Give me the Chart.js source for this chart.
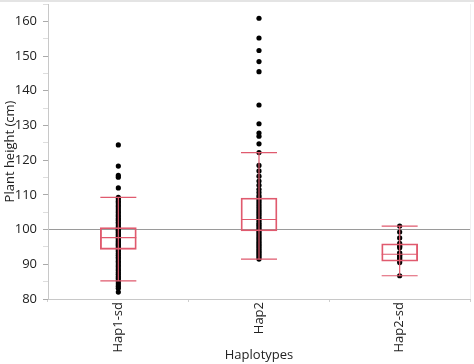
<!DOCTYPE html>
<html>
<head>
<meta charset="utf-8">
<script src="https://cdn.jsdelivr.net/npm/chart.js@4.4.0/dist/chart.umd.min.js"></script>
<style>
html, body { margin: 0; padding: 0; background: #fff; }
#wrap { width: 474px; height: 364px; }
</style>
</head>
<body>
<div id="wrap"><canvas id="myChart"></canvas></div>
<script>
// Catégories et valeurs
const categories = ['Hap1-sd', 'Hap2', 'Hap2-sd'];

// Statistiques des boîtes
const q1 = [94.3, 99.6, 90.9];
const median = [97.7, 102.9, 92.9];
const q3 = [100.6, 109.1, 95.9];
const whiskerLow = [85.2, 91.5, 86.7];
const whiskerHigh = [109.3, 122.2, 101.0];

// Points individuels
const hap1sd = [124.4, 118.3, 115.6, 115.1, 112.0,
    109.3, 108.8, 108.2, 107.7, 107.1, 106.6, 106.0, 105.4, 104.9, 104.3, 103.8,
    103.2, 102.7, 102.1, 101.6, 101.0, 100.6, 100.2, 99.8, 99.4, 99.0, 98.6, 98.2,
    97.8, 97.4, 97.0, 96.6, 96.2, 95.8, 95.4, 95.0, 94.6, 94.2, 93.7, 93.1, 92.6,
    92.0, 91.5, 90.9, 90.4, 89.8, 89.3, 88.7, 88.2, 87.6, 87.1, 86.5, 86.0, 85.4,
    84.9, 84.3, 83.7, 83.1, 82.0];
const hap2 = [160.9, 155.2, 151.6, 148.4, 145.5, 135.9, 130.5, 127.8, 126.9, 124.7, 122.2,
    118.5, 116.9, 115.4, 114.0, 112.8, 111.6, 110.7, 109.8, 109.2, 108.6, 108.0,
    107.4, 106.8, 106.2, 105.6, 105.0, 104.4, 103.8, 103.2, 102.6, 102.0, 101.5,
    101.0, 100.5, 100.0, 99.5, 99.0, 98.5, 98.0, 97.5, 97.0, 96.5, 96.0, 95.5,
    95.0, 94.5, 94.0, 93.5, 93.0, 92.5, 92.0, 91.5];
const hap2sd = [101.0, 99.3, 97.6, 96.0, 95.6, 95.2, 94.8, 93.3, 93.0, 92.6, 92.2,
    91.8, 91.4, 91.0, 90.5, 86.7];

// Graduations Y
const yMin = 80;
const yMax = 165;
const refLine = 100;

const boxColor = '#e05a6e';
const textColor = '#222';
const font = { family: '"Open Sans", "Noto Sans", sans-serif', size: 13 };

// Construction des points pour le scatter
let points = [];
[hap1sd, hap2, hap2sd].forEach(function (vals, i) {
    vals.forEach(function (v) {
        points.push({ x: categories[i], y: v });
    });
});

// Moustaches + médiane
const boxPlugin = {
    id: 'boxPlugin',
    afterDatasetsDraw(chart) {
        const ctx = chart.ctx;
        const y = chart.scales.y;
        const meta = chart.getDatasetMeta(0);
        ctx.save();
        ctx.strokeStyle = boxColor;
        ctx.lineWidth = 1.2;
        categories.forEach(function (c, i) {
            const bar = meta.data[i];
            const xc = bar.x;
            const hw = bar.width / 2;
            const yLow = y.getPixelForValue(whiskerLow[i]);
            const yHigh = y.getPixelForValue(whiskerHigh[i]);
            const yMed = y.getPixelForValue(median[i]);
            ctx.beginPath();
            ctx.moveTo(xc, yLow);
            ctx.lineTo(xc, yHigh);
            ctx.moveTo(xc - hw, yLow);
            ctx.lineTo(xc + hw, yLow);
            ctx.moveTo(xc - hw, yHigh);
            ctx.lineTo(xc + hw, yHigh);
            ctx.moveTo(xc - hw, yMed);
            ctx.lineTo(xc + hw, yMed);
            ctx.stroke();
        });
        ctx.restore();
    }
};

// Cadre haut / droite
const framePlugin = {
    id: 'framePlugin',
    beforeDraw(chart) {
        const ctx = chart.ctx;
        const a = chart.chartArea;
        ctx.save();
        ctx.strokeStyle = '#e4e4e4';
        ctx.lineWidth = 2;
        ctx.beginPath();
        ctx.moveTo(0, 1);
        ctx.lineTo(chart.width, 1);
        ctx.stroke();
        ctx.strokeStyle = '#f0f0f0';
        ctx.lineWidth = 1;
        ctx.beginPath();
        ctx.moveTo(a.right + 0.5, a.top);
        ctx.lineTo(a.right + 0.5, a.bottom);
        ctx.stroke();
        ctx.restore();
    }
};

const ctx = document.getElementById('myChart').getContext('2d');
const myChart = new Chart(ctx, {
    type: 'bar',
    data: {
        labels: categories,
        datasets: [{
            label: 'box',
            data: q1.map(function (v, i) { return [v, q3[i]]; }),
            backgroundColor: 'rgba(0,0,0,0)',
            borderColor: boxColor,
            borderWidth: 1.2,
            borderSkipped: false,
            barThickness: 36
        }, {
            type: 'scatter',
            label: 'points',
            data: points,
            backgroundColor: '#000',
            borderWidth: 0,
            pointRadius: 2.6
        }]
    },
    plugins: [boxPlugin, framePlugin],
    options: {
        responsive: true,
        maintainAspectRatio: false,
        animation: false,
        layout: { padding: { top: 2, right: 1, left: 0, bottom: 0 } },
        plugins: {
            legend: { display: false },
            tooltip: { enabled: false }
        },
        scales: {
            x: {
                type: 'category',
                offset: true,
                grid: {
                    offset: true,
                    drawOnChartArea: false,
                    tickLength: 3,
                    color: '#cfcfcf'
                },
                border: { color: '#c8c8c8' },
                ticks: {
                    minRotation: 90,
                    maxRotation: 90,
                    padding: 0,
                    color: textColor,
                    font: font
                },
                title: {
                    display: true,
                    text: 'Haplotypes',
                    color: textColor,
                    font: font,
                    padding: { top: 0, bottom: 1 }
                },
                afterFit: function (s) {
                    s.height = 65;
                    s.paddingLeft = 0;
                    s.paddingRight = 0;
                }
            },
            y: {
                min: yMin,
                max: yMax,
                grid: {
                    color: function (c) {
                        return c.tick && c.tick.value === refLine ? '#9a9a9a' : 'rgba(0,0,0,0)';
                    },
                    tickColor: function (c) {
                        return c.tick && c.tick.value % 10 === 0 ? '#aaaaaa' : '#dddddd';
                    },
                    tickLength: 5
                },
                border: { color: '#c8c8c8' },
                ticks: {
                    stepSize: 5,
                    autoSkip: false,
                    padding: 6,
                    color: textColor,
                    font: font,
                    callback: function (v) { return v % 10 === 0 ? v : ''; }
                },
                title: {
                    display: true,
                    text: 'Plant height (cm)',
                    color: textColor,
                    font: font,
                    padding: { top: 2, bottom: 0 }
                },
                afterFit: function (s) {
                    s.width = 48;
                    s.paddingTop = 0;
                    s.paddingBottom = 0;
                }
            }
        }
    }
});
</script>
</body>
</html>
